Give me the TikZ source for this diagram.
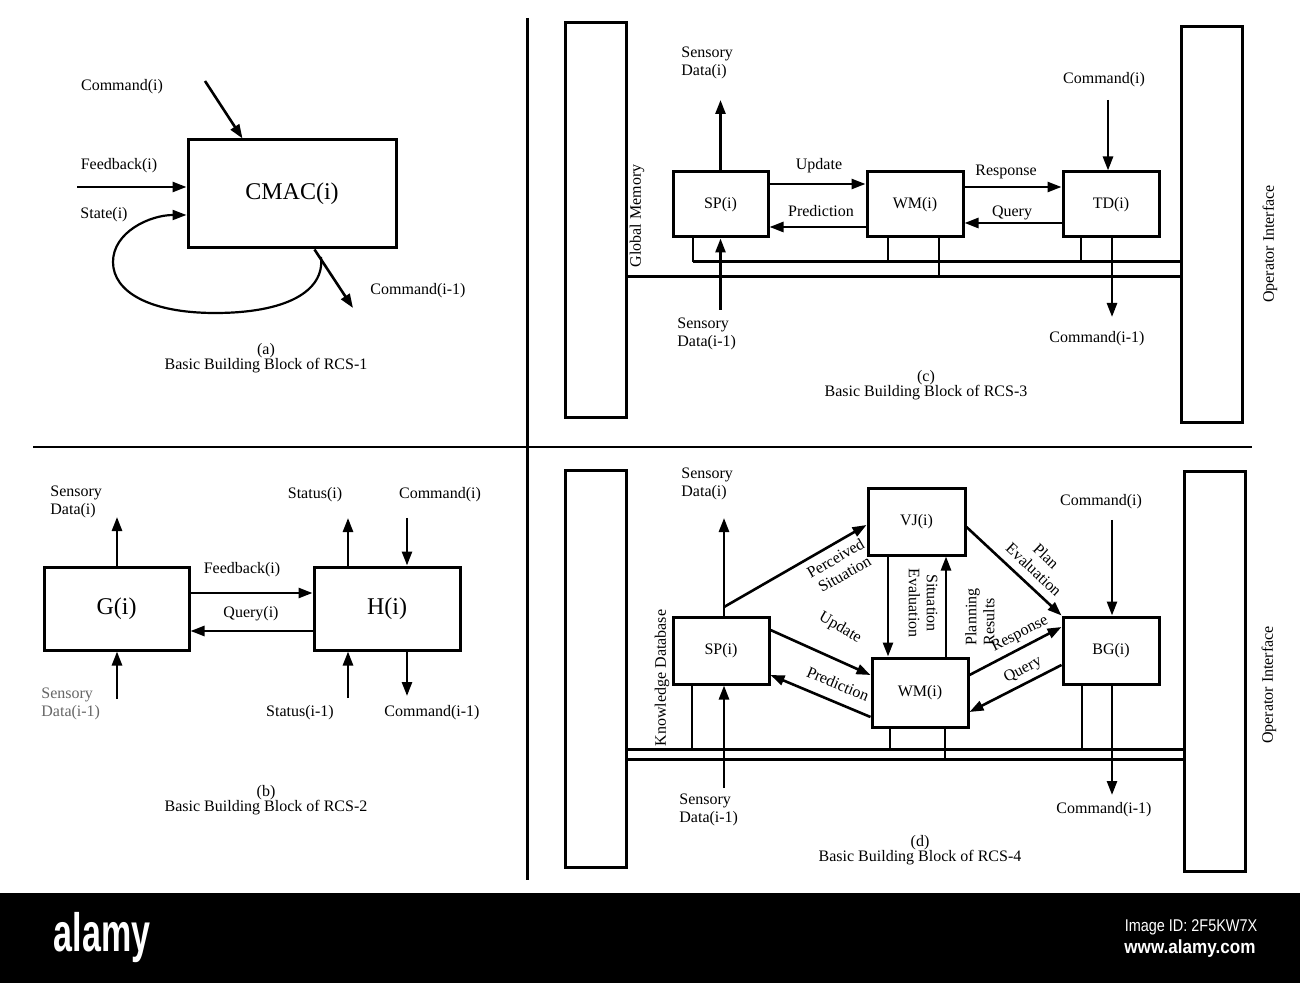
\documentclass[tikz,border=0pt]{standalone}
\usepackage{fontspec}
\setmainfont{Liberation Serif}
\newfontfamily\wmfont{Liberation Sans}
\usetikzlibrary{arrows.meta,calc}
\begin{document}
\begin{tikzpicture}[x=0.5pt,y=-0.5pt,
  box/.style={draw, line width=1.5pt, inner sep=0pt, font=\fontsize{8}{9}\selectfont},
  bigbox/.style={box, font=\fontsize{12}{14}\selectfont},
  bar/.style={draw, line width=1.5pt, inner sep=0pt},
  arr/.style={line width=1.3pt, -{Triangle[length=7pt,width=5pt]}},
  ln/.style={line width=1.3pt},
  lbl/.style={font=\fontsize{8}{9}\selectfont, align=center, inner sep=0pt},
  lbll/.style={lbl, align=left, anchor=west},
  caption/.style={font=\fontsize{8}{7.5}\selectfont, align=center, inner sep=0pt},
  divider/.style={line width=1.2pt}
]
\useasboundingbox (0,0) rectangle (1300,983);
\fill[white] (0,0) rectangle (1300,893);

% ---------- dividers ----------
\coordinate (dvT) at (527,18);
\coordinate (dvB) at (527,880);
\coordinate (dhL) at (33,447);
\coordinate (dhR) at (1252,447);
\draw[divider] (dhL) -- (dhR);
\draw[line width=1.5pt] (dvT) -- (dvB);

% ================= panel (a) =================
\node[bigbox, minimum width=104pt, minimum height=54pt] (cmac) at (292,194) {CMAC(i)};
\node[lbl] (aCmdL) at (122,87) {Command(i)};
\node[lbl] (aFbL) at (119,166) {Feedback(i)};
\node[lbl] (aStL) at (104,215) {State(i)};
\node[lbl] (aCoL) at (418,291) {Command(i-1)};
\coordinate (aCmd) at (205,81);
\coordinate (aFb) at (77,187);
\coordinate (aCo) at (353,308);
\draw[arr] (aCmd) -- ($(cmac.north west)+(56,0)$);
\draw[arr] (aFb) -- (aFb -| cmac.west);
\draw[arr] ($(cmac.south west)+(128,0)$) -- (aCo);
\coordinate (loopS) at (321,257);
\draw[arr, line width=1.1pt] (loopS) .. controls (325,292) and (285,313) .. (215,313)
   .. controls (150,313) and (113,292) .. (113,262)
   .. controls (113,232) and (150,215) .. (cmac.west |- 0,215);
\node[caption] (aCap) at (266,358) {(a)\\Basic Building Block of RCS-1};

% ================= panel (b) =================
\node[bigbox, minimum width=72.5pt, minimum height=41.5pt] (G) at (116.5,608.5) {G(i)};
\node[bigbox, minimum width=73pt, minimum height=41.5pt] (H) at (387,608.5) {H(i)};
\node[lbll] (bSDoL) at (50,502) {Sensory\\Data(i)};
\node[lbll, text=black!60] (bSDiL) at (41,704) {Sensory\\Data(i-1)};
\node[lbl] (bFbL) at (242,570) {Feedback(i)};
\node[lbl] (bQL) at (251,614) {Query(i)};
\node[lbl] (bSoL) at (315,495) {Status(i)};
\node[lbl] (bCiL) at (440,495) {Command(i)};
\node[lbl] (bSiL) at (300,713) {Status(i-1)};
\node[lbl] (bCoL) at (432,713) {Command(i-1)};
\coordinate (bSDo) at (117,517);
\coordinate (bSDi) at (117,699);
\coordinate (bSo) at (348,518);
\coordinate (bCi) at (407,518);
\coordinate (bSi) at (348,698);
\coordinate (bCo) at (407,696);
\draw[arr] (G.north -| bSDo) -- (bSDo);
\draw[arr] (bSDi) -- (bSDi |- G.south);
\draw[arr] (G.east |- 0,593) -- (H.west |- 0,593);
\draw[arr] (H.west |- 0,631) -- (G.east |- 0,631);
\draw[arr] (H.north -| bSo) -- (bSo);
\draw[arr] (bCi) -- (bCi |- H.north);
\draw[arr] (bSi) -- (bSi |- H.south);
\draw[arr] (bCo |- H.south) -- (bCo);
\node[caption] (bCap) at (266,800) {(b)\\Basic Building Block of RCS-2};

% ================= panel (c) =================
\node[bar, minimum width=30.5pt, minimum height=197.5pt] (lbarc) at (595.5,220.5) {};
\node[bar, minimum width=30.5pt, minimum height=198pt] (rbarc) at (1211.5,225) {};
\node[box, minimum width=47.5pt, minimum height=32.5pt] (spc) at (720.5,204.5) {SP(i)};
\node[box, minimum width=48pt, minimum height=32.5pt] (wmc) at (915,204.5) {WM(i)};
\node[box, minimum width=48pt, minimum height=32.5pt] (tdc) at (1111,204.5) {TD(i)};
\node[lbl, rotate=90] (cGM) at (637,216) {Global Memory};
\node[lbl, rotate=90] (cOI) at (1270,244) {Operator Interface};
\node[lbll] (cSDoL) at (681,63) {Sensory\\Data(i)};
\node[lbll] (cSDiL) at (677,334) {Sensory\\Data(i-1)};
\node[lbl] (cUpL) at (819,166) {Update};
\node[lbl] (cPrL) at (821,211) {Prediction};
\node[lbl] (cReL) at (1006,172) {Response};
\node[lbl] (cQuL) at (1012,213) {Query};
\node[lbl] (cCiL) at (1104,80) {Command(i)};
\node[lbl] (cCoL) at (1097,339) {Command(i-1)};
\coordinate (cSDo) at (720.5,100);
\coordinate (cSDi) at (720.5,310);
\coordinate (cCi) at (1108,100);
\coordinate (cCo) at (1112,317);
\coordinate (cbu) at (693,262);
\coordinate (cbl) at (lbarc.east |- 0,277);
\draw[arr] (spc.north) -- (cSDo);
\draw[arr] (cSDi) -- (spc.south);
\draw[arr] (spc.east |- 0,184) -- (wmc.west |- 0,184);
\draw[arr] (wmc.west |- 0,227) -- (spc.east |- 0,227);
\draw[arr] (wmc.east |- 0,187) -- (tdc.west |- 0,187);
\draw[arr] (tdc.west |- 0,223) -- (wmc.east |- 0,223);
\draw[arr] (cCi) -- (cCi |- tdc.north);
\draw[arr] (cCo |- tdc.south) -- (cCo);
\draw[ln, line width=1.5pt] (cbu) -- (cbu -| rbarc.west);
\draw[ln, line width=1.5pt] (cbl) -- (cbl -| rbarc.west);
\draw[ln] (spc.south -| cbu) -- (cbu);
\draw[ln] (wmc.south -| 888,0) -- (888,262);
\draw[ln] (wmc.south -| 939,0) -- (939,277);
\draw[ln] (tdc.south -| 1081,0) -- (1081,262);
\node[caption] (cCap) at (926,385) {(c)\\Basic Building Block of RCS-3};

% ================= panel (d) =================
\node[bar, minimum width=30.5pt, minimum height=198pt] (lbard) at (595.5,669) {};
\node[bar, minimum width=30.5pt, minimum height=199.5pt] (rbard) at (1214.5,671.5) {};
\node[box, minimum width=48pt, minimum height=33.5pt] (spd) at (721,650.5) {SP(i)};
\node[box, minimum width=48.5pt, minimum height=33pt] (vj) at (916.5,522) {VJ(i)};
\node[box, minimum width=48pt, minimum height=34.5pt] (wmd) at (920,692.5) {WM(i)};
\node[box, minimum width=48pt, minimum height=33.5pt] (bg) at (1111,650.5) {BG(i)};
\node[lbl, rotate=90] (dKD) at (662,678) {Knowledge Database};
\node[lbl, rotate=90] (dOI) at (1269,685) {Operator Interface};
\node[lbll] (dSDoL) at (681,484) {Sensory\\Data(i)};
\node[lbll] (dSDiL) at (679,810) {Sensory\\Data(i-1)};
\node[lbl] (dCiL) at (1101,502) {Command(i)};
\node[lbl] (dCoL) at (1104,810) {Command(i-1)};
\node[lbl, rotate=30] (dPSL) at (840,566) {Perceived\\Situation};
\node[lbl, rotate=-30] (dUpL) at (840,628) {Update};
\node[lbl, rotate=-23] (dPrL) at (838,684) {Prediction};
\node[lbl, rotate=-90] (dSEL) at (923,603) {Situation\\Evaluation};
\node[lbl, rotate=90, align=left] (dPRL) at (980,617) {Planning\\Results};
\node[lbl, rotate=-43] (dPEL) at (1040,563) {Plan\\Evaluation};
\node[lbl, rotate=27] (dReL) at (1020,634) {Response};
\node[lbl, rotate=27] (dQuL) at (1023,670) {Query};
\coordinate (dSDo) at (724,518);
\coordinate (dPS) at (724,607);
\coordinate (dSDi) at (724,788);
\coordinate (dCi) at (1112,520);
\coordinate (dCo) at (1112,795);
\coordinate (dbu) at (lbard.east |- 0,749);
\coordinate (dbl) at (lbard.east |- 0,759);
\draw[arr] (spd.north -| dSDo) -- (dSDo);
\draw[arr] (dPS) -- (vj.west |- 0,525);
\draw[arr] (dSDi) -- (dSDi |- spd.south);
\draw[arr] (vj.south -| 888,0) -- (wmd.north -| 888,0);
\draw[arr] (wmd.north -| 946,0) -- (vj.south -| 946,0);
\draw[arr] (vj.east |- 0,527) -- (bg.north west);
\draw[arr] (spd.east |- 0,630) -- (wmd.west |- 0,675);
\draw[arr] (wmd.west |- 0,717) -- (spd.east |- 0,675);
\draw[arr] (wmd.east |- 0,675) -- (bg.west |- 0,627);
\draw[arr] (bg.west |- 0,665) -- (wmd.east |- 0,712);
\draw[arr] (dCi) -- (dCi |- bg.north);
\draw[arr] (dCo |- bg.south) -- (dCo);
\draw[ln, line width=1.5pt] (dbu) -- (dbu -| rbard.west);
\draw[ln, line width=1.5pt] (dbl) -- (dbl -| rbard.west);
\draw[ln] (spd.south -| 692,0) -- (692,749);
\draw[ln] (wmd.south -| 890,0) -- (890,749);
\draw[ln] (wmd.south -| 945,0) -- (945,759);
\draw[ln] (bg.south -| 1082,0) -- (1082,751);
\node[caption] (dCap) at (920,850) {(d)\\Basic Building Block of RCS-4};

% ================= watermark band =================
\fill[black] (0,893) rectangle (1300,983);
\node[text=white, inner sep=0pt, xscale=0.63, font=\wmfont\bfseries\fontsize{27}{27}\selectfont] (wmA) at (102,938) {alamy};
\node[text=white, inner sep=0pt, xscale=0.85, font=\wmfont\fontsize{8.5}{9}\selectfont] (wmB) at (1191,927) {Image ID: 2F5KW7X};
\node[text=white, inner sep=0pt, xscale=0.9, font=\wmfont\bfseries\fontsize{9.5}{10}\selectfont] (wmC) at (1190,949) {www.alamy.com};
\end{tikzpicture}
\end{document}
